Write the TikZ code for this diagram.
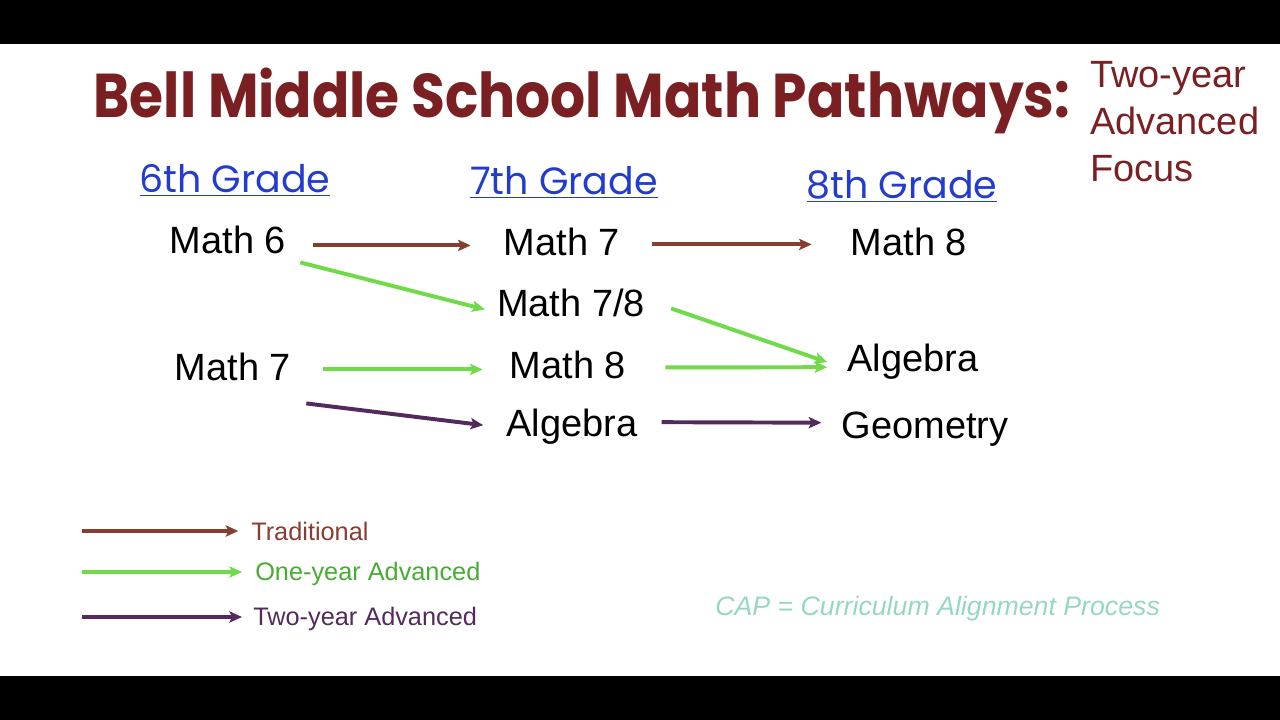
\documentclass[tikz,border=0pt]{standalone}
\usepackage{graphicx}
\usepackage{fontspec}
\setmainfont{Liberation Sans}
\newfontfamily\comicfont{Poppins}
\usetikzlibrary{arrows.meta}
\definecolor{titlered}{RGB}{122,32,34}
\definecolor{gradeblue}{RGB}{35,60,205}
\definecolor{tradbrown}{RGB}{135,62,48}
\definecolor{onegreen}{RGB}{112,218,72}
\definecolor{onetext}{RGB}{72,172,52}
\definecolor{twopurple}{RGB}{82,42,92}
\definecolor{capgreen}{RGB}{150,215,195}
\begin{document}
\begin{tikzpicture}[x=0.025cm, y=-0.025cm,
  course/.style={font=\fontsize{27}{32}\selectfont, inner sep=0pt, anchor=base},
  grade/.style={font=\comicfont\fontsize{27}{30}\selectfont, text=gradeblue, inner sep=0pt, anchor=base},
  legtext/.style={font=\fontsize{18}{21}\selectfont, inner sep=0pt, anchor=west},
  arr/.style={line width=2.8pt, -{Stealth[length=9pt,width=8pt,inset=2pt]}},
  trad/.style={arr, draw=tradbrown},
  oneyr/.style={arr, draw=onegreen},
  twoyr/.style={arr, draw=twopurple}]
  \useasboundingbox (0,0) rectangle (1280,720);
  \fill[black] (0,0) rectangle (1280,44);
  \fill[black] (0,676) rectangle (1280,720);
  \node[font=\comicfont\bfseries\fontsize{44}{50}\selectfont, text=titlered, inner sep=0pt, anchor=base] (title) at (582,118) {\scalebox{0.89}[1]{Bell Middle School Math Pathways:}};
  \node[font=\fontsize{27}{33.5}\selectfont, text=titlered, align=left, inner sep=0pt, anchor=north west] (focus) at (1090,61) {Two-year\\Advanced\\Focus};
  \node[grade] (g6) at (235,193) {\underline{6th Grade}};
  \node[grade] (g7) at (564,195) {\underline{7th Grade}};
  \node[grade] (g8) at (902,199) {\underline{8th Grade}};
  \node[course] (m6) at (228,254) {Math 6};
  \node[course] (m7a) at (562,256) {Math 7};
  \node[course] (m8a) at (909,256) {Math 8};
  \node[course] (m78) at (571,317) {Math 7/8};
  \node[course] (m7b) at (233,381) {Math 7};
  \node[course] (m8b) at (568,379) {Math 8};
  \node[course] (alg3) at (913,372) {Algebra};
  \node[course] (alg2) at (572,436) {Algebra};
  \node[course] (geo) at (925,439) {Geometry};
  \draw[trad] ([shift={(27,5)}]m6.east) -- ([shift={(-33,3)}]m7a.west);
  \draw[trad] ([shift={(32,2)}]m7a.east) -- ([shift={(-39,2)}]m8a.west);
  \draw[oneyr] ([shift={(14,22)}]m6.east) -- ([shift={(-12,6)}]m78.west);
  \draw[oneyr] ([shift={(26,5)}]m78.east) -- ([shift={(-20,0)}]alg3.west);
  \draw[oneyr] ([shift={(32,2)}]m7b.east) -- ([shift={(-27,4)}]m8b.west);
  \draw[oneyr] ([shift={(39,2)}]m8b.east) -- ([shift={(-20,5)}]alg3.west);
  \draw[twoyr] ([shift={(15,36)}]m7b.east) -- ([shift={(-23,-1)}]alg2.west);
  \draw[twoyr] ([shift={(24,-4)}]alg2.east) -- ([shift={(-20,-7)}]geo.west);
  \coordinate (k1) at (82,531);
  \coordinate (k2) at (82,572);
  \coordinate (k3) at (82,617);
  \node[legtext, text=tradbrown] (ltrad) at (251,531) {Traditional};
  \node[legtext, text=onetext] (lone) at (255,574) {One-year Advanced};
  \node[legtext, text=twopurple] (ltwo) at (253,619) {Two-year Advanced};
  \draw[trad] (k1) -- ([xshift=-9]ltrad.west);
  \draw[oneyr] (k2) -- ([shift={(-13,-2)}]lone.west);
  \draw[twoyr] (k3) -- ([shift={(-11,-2)}]ltwo.west);
  \node[font=\itshape\fontsize{19}{22}\selectfont, text=capgreen, inner sep=0pt, anchor=west] (cap) at (715,609) {CAP = Curriculum Alignment Process};
\end{tikzpicture}
\end{document}
